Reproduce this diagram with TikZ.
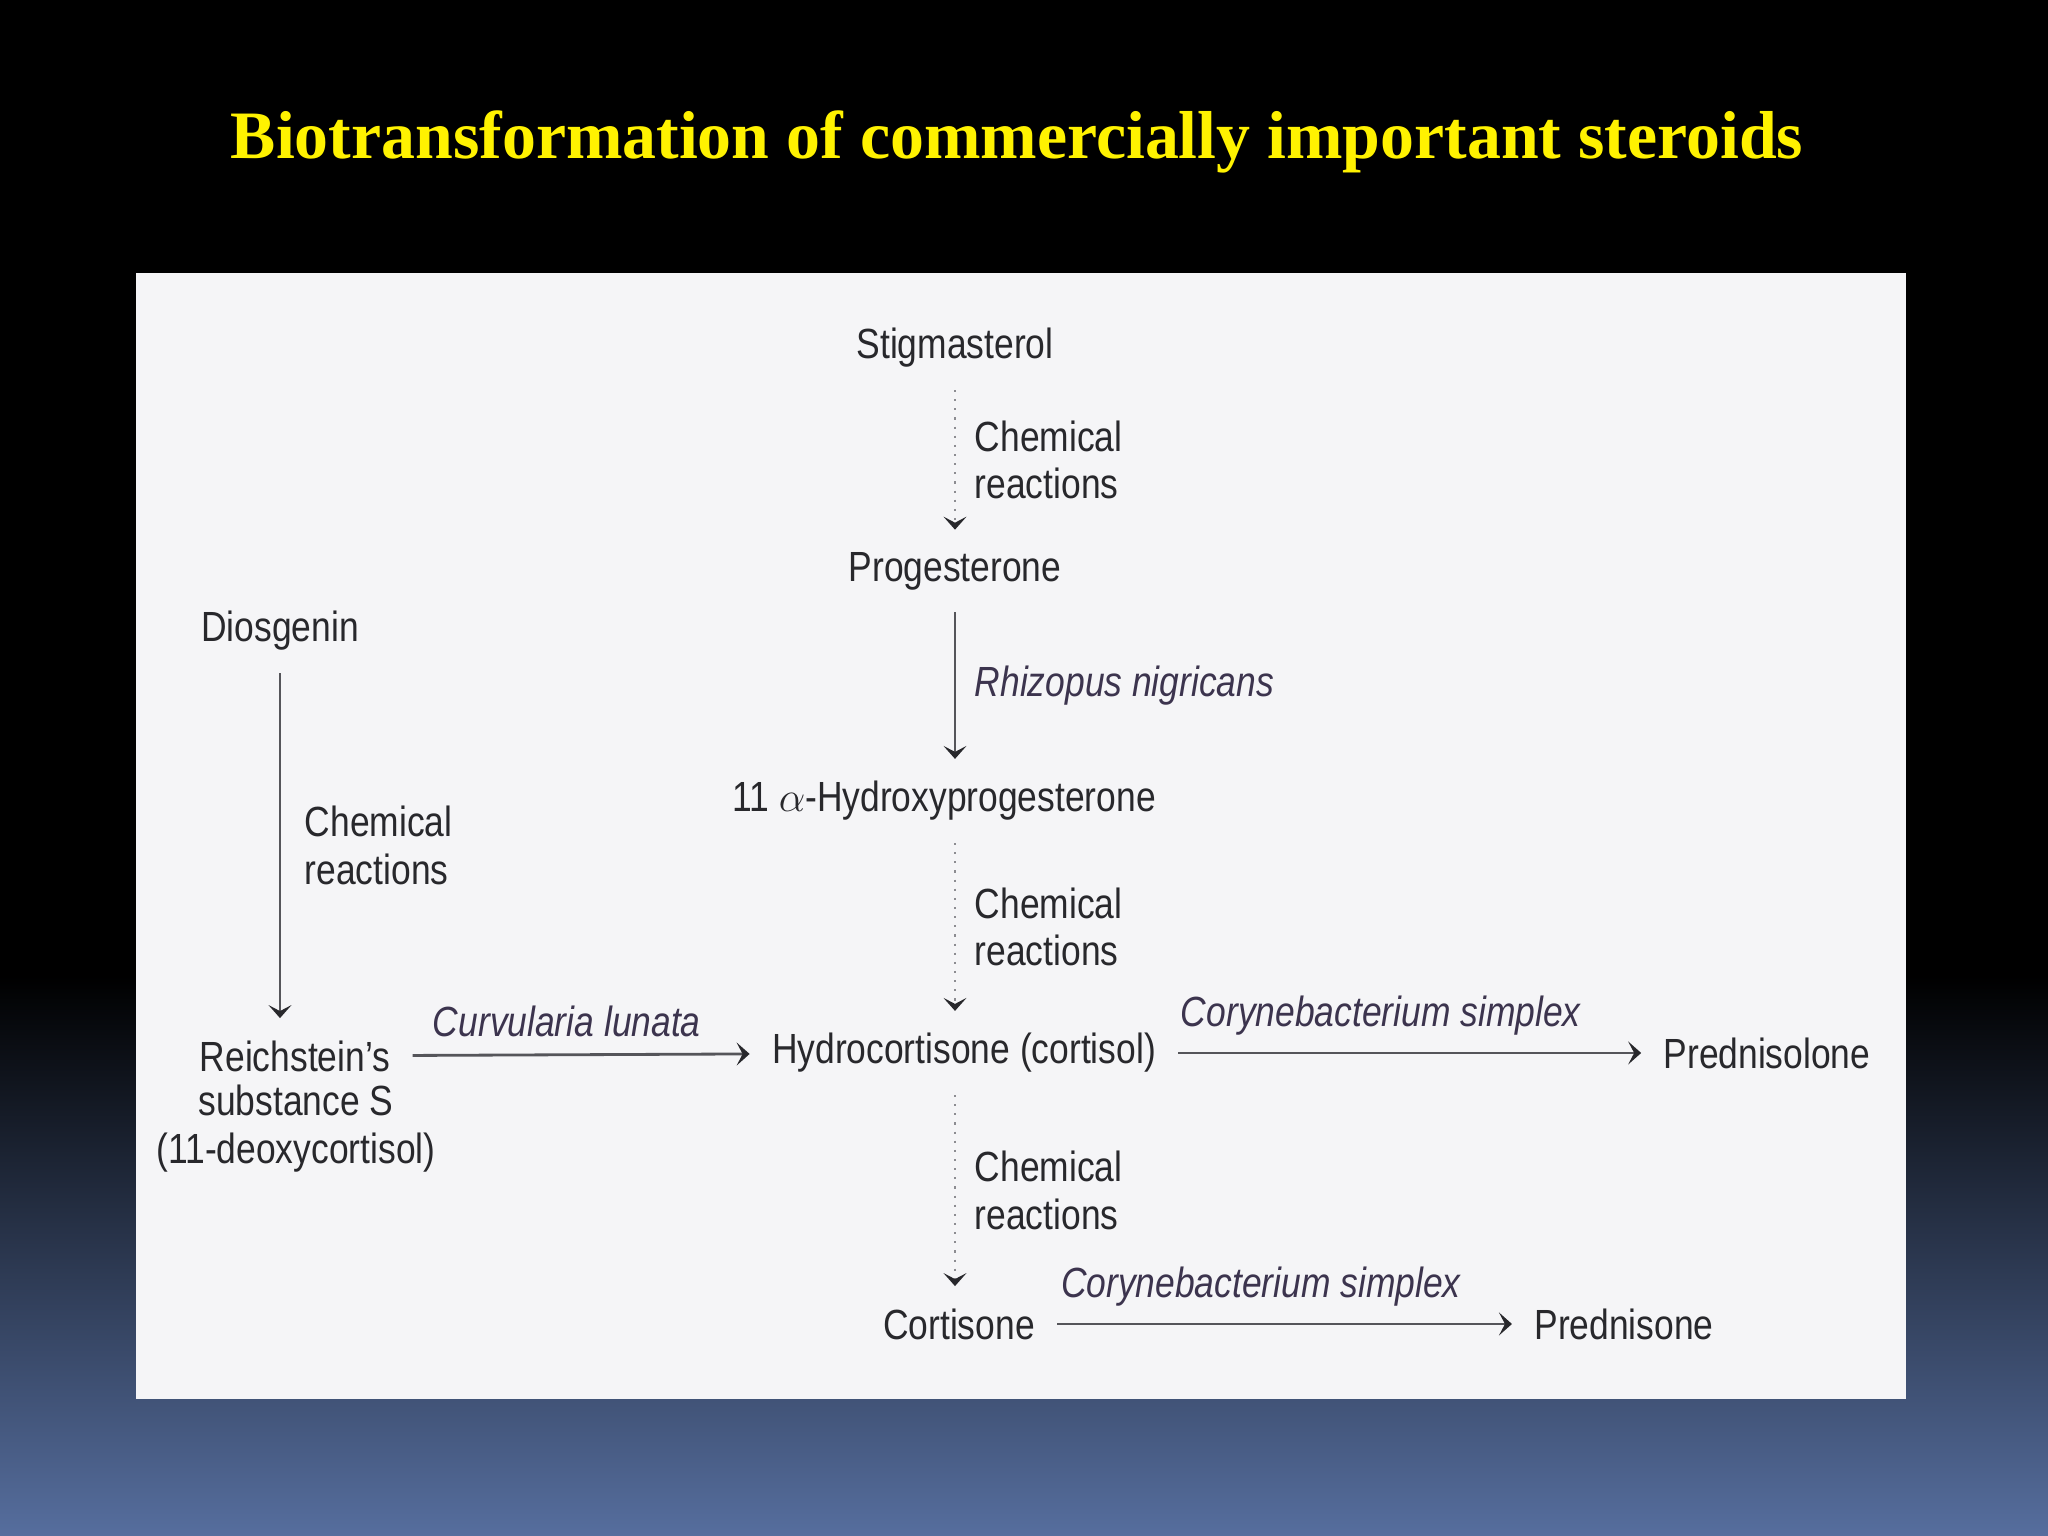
\documentclass[tikz,border=0pt]{standalone}
\usepackage{fontspec}
\setmainfont{Liberation Sans}[FakeStretch=0.84]
\newfontfamily\titlefont{Liberation Serif}
\usetikzlibrary{arrows.meta}
\definecolor{slideblue}{RGB}{86,110,158}
\definecolor{panel}{RGB}{245,245,247}
\definecolor{ink}{RGB}{40,40,44}
\definecolor{bugink}{RGB}{60,52,78}
\definecolor{lineink}{RGB}{85,85,90}
\definecolor{dotink}{RGB}{140,140,145}

\begin{document}
\begin{tikzpicture}[>={Stealth[length=1.3mm,width=2.3mm,inset=0.6mm,color=ink]}]

        % slide background
        \fill[black] (0,0) rectangle (20.48,15.36);
        \shade[top color=black, bottom color=slideblue] (0,0) rectangle (20.48,5.6);
        \fill[panel] (1.36,1.37) rectangle (19.06,12.63);

        \node (title) at (10.17,13.77) [anchor=base, text=yellow,
          font=\titlefont\bfseries\fontsize{19.3}{23}\selectfont]
          {Biotransformation of commercially important steroids};

        \begin{scope}[every node/.style={text=ink, align=center,
            font=\fontsize{12}{13.6}\selectfont}]
          \node (stig)      at (9.55,11.88) {Stigmasterol};
          \node (prog)      at (9.55,9.65)  {Progesterone};
          \node (hydroxy)   at (9.44,7.35)  {11 $\alpha$-Hydroxyprogesterone};
          \node (hydro)     at (9.64,4.83)  {Hydrocortisone (cortisol)};
          \node (cort)      at (9.59,2.12)  {Cortisone};
          \node (predone)   at (16.24,2.12) {Prednisone};
          \node (predolone) at (17.67,4.83) {Prednisolone};
          \node (dios)      at (2.80,9.05)  {Diosgenin};
          \node (reich)     at (2.95,4.80)  {Reichstein's};
          \node (reichsub)  at (2.96,4.07)  {substance S\\(11-deoxycortisol)};
        \end{scope}

        \begin{scope}[every node/.style={font=\fontsize{12}{13.6}\selectfont}]

          \begin{scope}[every edge/.style={draw=lineink, line width=0.6pt, ->,
              shorten <=1mm, shorten >=1mm}]
            \path (stig)  edge[draw=dotink, dotted]
              node[right, xshift=0.7mm, align=left, text=ink] {Chemical\\reactions} (prog);
            \path (prog.south) edge
              node[right, xshift=0.7mm, text=bugink] {\itshape Rhizopus nigricans} (prog.south |- hydroxy.north);
            \path (hydroxy.south -| prog) edge[draw=dotink, dotted]
              node[right, xshift=0.7mm, align=left, text=ink] {Chemical\\reactions} (hydro.north -| prog);
            \path (hydro.south -| prog) edge[draw=dotink, dotted]
              node[right, xshift=0.7mm, align=left, text=ink] {Chemical\\reactions} (cort.north -| prog);
            \path (dios)  edge
              node[right, xshift=1.2mm, align=left, text=ink] {Chemical\\reactions} (dios |- reich.north);
            \path (reich) edge[line width=0.8pt]
              node[above, pos=0.46, yshift=0.5mm, text=bugink] {\itshape Curvularia lunata} (hydro);
            \path (hydro) edge[line width=0.8pt]
              node[above, pos=0.44, yshift=0.5mm, text=bugink] {\itshape Corynebacterium simplex} (predolone);
            \path (cort)  edge[line width=0.8pt]
              node[above, pos=0.45, yshift=0.5mm, text=bugink] {\itshape Corynebacterium simplex} (predone);
          \end{scope}
        \end{scope}

      \end{tikzpicture}
\end{document}
